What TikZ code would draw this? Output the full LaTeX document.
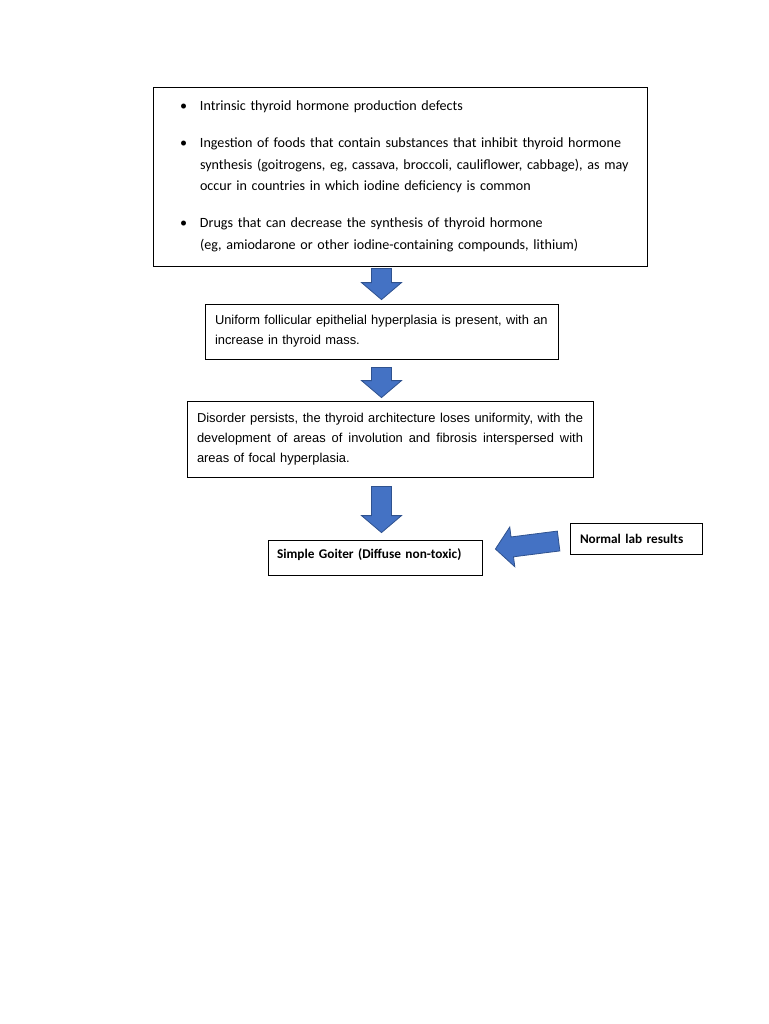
\documentclass[tikz,border=0pt]{standalone}
\usepackage{fontspec}
\setmainfont{Carlito}
\newfontfamily\arialfont{Liberation Sans}
\usetikzlibrary{calc}
\definecolor{arrowblue}{HTML}{4472C4}
\definecolor{arrowedge}{HTML}{2F528F}
% block arrow from tail #1 to tip #2
\newcommand{\blockarrow}[2]{%
  \draw[barrow] let \p1=#1, \p2=#2, \n1={atan2(\y1-\y2,\x1-\x2)} in
    ($(\p1)+(\n1+90:10pt)$) -- ($(\p2)+(\n1:17pt)+(\n1+90:10pt)$)
    -- ($(\p2)+(\n1:17pt)+(\n1+90:20pt)$) -- (\p2)
    -- ($(\p2)+(\n1:17pt)+(\n1-90:20pt)$) -- ($(\p2)+(\n1:17pt)+(\n1-90:10pt)$)
    -- ($(\p1)+(\n1-90:10pt)$) -- cycle;}
\newcommand{\bul}{\makebox[20pt][l]{\textbullet}}
% justified line of box C
\newcommand{\jline}[1]{\leavevmode\hbox to 386pt{\spaceskip=0.278em plus 1em\relax #1}}
\begin{document}
\begin{tikzpicture}[x=1pt,y=-1pt,
  box/.style={draw,line width=0.8pt,inner sep=0pt,align=left},
  barrow/.style={fill=arrowblue,draw=arrowedge,line width=0.8pt}]
\useasboundingbox (0,0) rectangle (768,1024);
\node[box,minimum width=494pt,minimum height=179pt,text width=440pt,
  font=\fontsize{14.1}{21.5}\selectfont] (A) at (400,176.5) {%
  \bul Intrinsic thyroid hormone production defects\\[15.5pt]
  \mbox{\bul Ingestion of foods that contain substances that inhibit thyroid hormone}\\
  \mbox{\hspace*{20pt}synthesis (goitrogens, eg, cassava, broccoli, cauliflower, cabbage), as may}\\
  \hspace*{20pt}occur in countries in which iodine deficiency is common\\[15.5pt]
  \bul Drugs that can decrease the synthesis of thyroid hormone\\
  \mbox{\hspace*{20pt}(eg, amiodarone or other iodine-containing compounds, lithium)}};
\node[box,minimum width=353pt,minimum height=55pt,text width=333pt,
  font=\arialfont\fontsize{12.9}{20}\selectfont] (B) at (381.5,331.5) {%
  Uniform follicular epithelial hyperplasia is present, with an\\
  increase in thyroid mass.};
\node[box,minimum width=406pt,minimum height=76pt,text width=386pt,
  font=\arialfont\fontsize{12.9}{20}\selectfont] (C) at (390,439) {%
  \jline{Disorder persists, the thyroid architecture loses uniformity, with the}\\
  \jline{development of areas of involution and fibrosis interspersed with}\\
  areas of focal hyperplasia.};
\node[box,minimum width=214pt,minimum height=35pt,text width=196pt,text depth=8pt,
  font=\bfseries\fontsize{13.3}{14}\selectfont] (D) at (375,557.5) {%
  Simple Goiter (Diffuse non-toxic)};
\node[box,minimum width=132pt,minimum height=31pt,text width=112pt,
  font=\bfseries\fontsize{13.2}{14}\selectfont] (E) at (636,538.5) {%
  Normal lab results};
\blockarrow{($(A.south -| B.north)+(0,2)$)}{($(B.north)+(0,-4)$)}
\blockarrow{($(B.south)+(0,8)$)}{($(C.north -| B.south)+(0,-3)$)}
\blockarrow{($(C.south -| B.south)+(0,9)$)}{($(D.north -| B.south)+(0,-7)$)}
\blockarrow{($(E.west)+(-11,2.5)$)}{($(D.east)+(13,-8.5)$)}
\end{tikzpicture}
\end{document}
